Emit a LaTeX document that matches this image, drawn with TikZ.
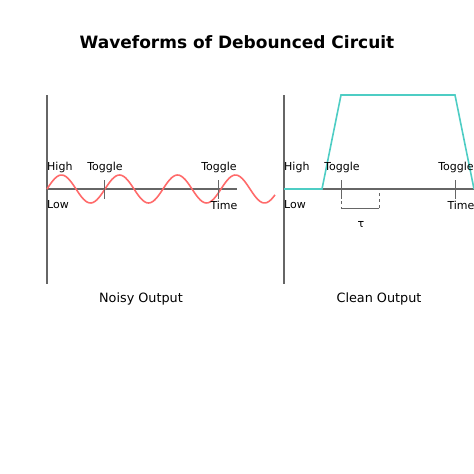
\documentclass[tikz,border=0pt]{standalone}
\usepackage{fontspec}
\setmainfont{DejaVu Sans}
\usepackage{xcolor}
\usetikzlibrary{positioning}

\definecolor{noisyred}{HTML}{FF6B6B}
\definecolor{cleancyan}{HTML}{4ECDC4}
\definecolor{axisgray}{HTML}{666666}

\begin{document}
\begin{tikzpicture}[
  x=1pt, y=-1pt,
  axis/.style={draw=axisgray, line width=1.3pt},
  tick/.style={draw=axisgray, line width=1pt},
  noisy/.style={draw=noisyred, line width=1.6pt},
  clean/.style={draw=cleancyan, line width=1.6pt},
  lbl/.style={font=\fontsize{11}{12}\selectfont, inner sep=0pt},
  captxt/.style={font=\fontsize{12.8}{14}\selectfont, inner sep=0pt}
]
\useasboundingbox (0,0) rectangle (474,474);

\node[font=\fontsize{17}{19}\selectfont\bfseries] (title) at (237,42) {Waveforms of Debounced Circuit};

% noisy panel
\coordinate (nO) at (47,189);
\draw[axis] (47,95) -- (47,284);
\draw[axis] (nO) -- (237,189);
\draw[noisy] plot[domain=47:275, samples=120] (\x, {189-14*sin(6.2069*(\x-47))});
\draw[tick] (104,180) -- (104,199);
\draw[tick] (218,180) -- (218,199);
\node[lbl, anchor=west] (nhigh) at (47,167) {High};
\node[lbl, anchor=west] (nlow) at (47,205) {Low};
\node[lbl] (ntog1) at (105,167) {Toggle};
\node[lbl] (ntog2) at (219,167) {Toggle};
\node[lbl] (ntime) at (224,205) {Time};
\node[captxt] (ncap) at (141,299) {Noisy Output};

% clean panel
\coordinate (cO) at (284,189);
\draw[axis] (284,95) -- (284,284);
\draw[axis] (cO) -- (474,189);
\draw[clean] (cO) -- (322,189) -- (341,95) -- (455,95) -- (474,189);
\draw[tick] (341,180) -- (341,199);
\draw[tick] (455,180) -- (455,199);
\draw[draw=axisgray, line width=1pt, dashed] (341,189) -- (341,208);
\draw[draw=axisgray, line width=1pt] (341,208) -- (379,208);
\draw[draw=axisgray, line width=1pt, dashed] (379,208) -- (379,189);
\node[lbl] (tau) at (361,224) {τ};
\node[lbl, anchor=west] (chigh) at (284,167) {High};
\node[lbl, anchor=west] (clow) at (284,205) {Low};
\node[lbl] (ctog1) at (342,167) {Toggle};
\node[lbl] (ctog2) at (456,167) {Toggle};
\node[lbl] (ctime) at (461,205) {Time};
\node[captxt] (ccap) at (379,299) {Clean Output};
\end{tikzpicture}
\end{document}
